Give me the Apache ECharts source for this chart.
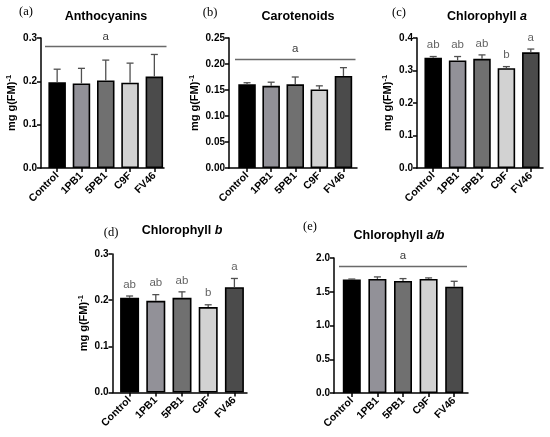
<!DOCTYPE html>
<html><head><meta charset="utf-8">
<script src="https://cdn.jsdelivr.net/npm/echarts@6/dist/echarts.min.js"></script>
<style>html,body{margin:0;padding:0;background:#fff}#c{width:550px;height:437px}</style>
</head><body><div id="c"></div>
<script>
// ---------- data ----------
const categories = ['Control', '1PB1', '5PB1', 'C9F', 'FV46'];
const barColors = ['#000000', '#929198', '#707070', '#d2d2d2', '#4b4b4b'];

const anthocyanins    = [0.198, 0.195, 0.202, 0.197, 0.211];
const anthocyaninsErr = [0.030, 0.035, 0.047, 0.045, 0.051];
const anthocyaninsSig = 0.282;

const carotenoids     = [0.161, 0.158, 0.161, 0.151, 0.177];
const carotenoidsErr  = [0.003, 0.007, 0.014, 0.007, 0.016];
const carotenoidsSig  = 0.210;

const chlA            = [0.339, 0.331, 0.336, 0.307, 0.356];
const chlAErr         = [0.004, 0.012, 0.012, 0.005, 0.010];
const chlALetters     = ['ab', 'ab', 'ab', 'b', 'a'];

const chlB            = [0.205, 0.1985, 0.205, 0.185, 0.228];
const chlBErr         = [0.004, 0.0135, 0.013, 0.005, 0.019];
const chlBLetters     = ['ab', 'ab', 'ab', 'b', 'a'];

const chlRatio        = [1.68, 1.69, 1.66, 1.69, 1.575];
const chlRatioErr     = [0.008, 0.030, 0.035, 0.015, 0.080];
const chlRatioSig     = 1.875;

const yTicksA = [0, 0.1, 0.2, 0.3];
const yTicksB = [0, 0.05, 0.10, 0.15, 0.20, 0.25];
const yTicksC = [0, 0.1, 0.2, 0.3, 0.4];
const yTicksD = [0, 0.1, 0.2, 0.3];
const yTicksE = [0, 0.5, 1.0, 1.5, 2.0];

// ---------- panels ----------
const SANS = '"Liberation Sans", Arial, sans-serif';
const SERIF = '"Liberation Serif", "Times New Roman", serif';

const panels = [
  { values: anthocyanins, errors: anthocyaninsErr, sig: anthocyaninsSig, letters: null, ticks: yTicksA, decimals: 1, yName: true,
    title: 'Anthocyanins', tag: '(a)',
    L: { axisX: 41, bandLeft: 45, bandWidth: 121.5, lineEnd: 164, top: 38, bottom: 168, titleX: 106, titleY: 17, tagX: 26, tagY: 12, barWidth: 17.5, nameGap: 19 } },
  { values: carotenoids, errors: carotenoidsErr, sig: carotenoidsSig, letters: null, ticks: yTicksB, decimals: 2, yName: true,
    title: 'Carotenoids', tag: '(b)',
    L: { axisX: 229, bandLeft: 235, bandWidth: 120.5, lineEnd: 357, top: 38, bottom: 168, titleX: 298, titleY: 17, tagX: 210, tagY: 13, barWidth: 17.5, nameGap: 23 } },
  { values: chlA, errors: chlAErr, sig: null, letters: chlALetters, ticks: yTicksC, decimals: 1, yName: true,
    title: '{n|Chlorophyll }{i|a}', tag: '(c)',
    L: { axisX: 417, bandLeft: 421, bandWidth: 122, lineEnd: 543, top: 38, bottom: 168, titleX: 487, titleY: 17, tagX: 399, tagY: 13, barWidth: 17.5, nameGap: 19 } },
  { values: chlB, errors: chlBErr, sig: null, letters: chlBLetters, ticks: yTicksD, decimals: 1, yName: true,
    title: '{n|Chlorophyll }{i|b}', tag: '(d)',
    L: { axisX: 112.5, bandLeft: 116.5, bandWidth: 131, lineEnd: 247, top: 254, bottom: 392.5, titleX: 182, titleY: 231, tagX: 111, tagY: 233, barWidth: 19, nameGap: 22 } },
  { values: chlRatio, errors: chlRatioErr, sig: chlRatioSig, letters: null, ticks: yTicksE, decimals: 1, yName: false,
    title: '{n|Chlorophyll }{i|a/b}', tag: '(e)',
    L: { axisX: 334, bandLeft: 339, bandWidth: 128, lineEnd: 468, top: 258, bottom: 393, titleX: 399, titleY: 236, tagX: 310, tagY: 227, barWidth: 18, nameGap: 22 } }
];

const grid = [], xAxis = [], yAxis = [], series = [], graphic = [];

function errRender(params, api) {
  const i = api.value(0), v = api.value(1), e = api.value(2);
  const p0 = api.coord([i, v]);
  const p1 = api.coord([i, v + e]);
  const hw = 3.5;
  const st = { stroke: '#505050', lineWidth: 1.3 };
  return { type: 'group', children: [
    { type: 'line', shape: { x1: p0[0], y1: p0[1], x2: p1[0], y2: p1[1] }, style: st },
    { type: 'line', shape: { x1: p1[0] - hw, y1: p1[1], x2: p1[0] + hw, y2: p1[1] }, style: st }
  ] };
}

panels.forEach((p, k) => {
  const L = p.L;
  const h = L.bottom - L.top;
  const max = p.ticks[p.ticks.length - 1];
  const interval = p.ticks[1] - p.ticks[0];
  const gA = grid.length;
  grid.push({ left: L.bandLeft, top: L.top, width: L.bandWidth, height: h, containLabel: false });
  grid.push({ left: L.axisX, top: L.top, width: L.lineEnd - L.axisX, height: h, containLabel: false });
  const gB = gA + 1;

  xAxis.push({
    type: 'category', gridIndex: gA, data: categories, boundaryGap: true,
    axisLine: { show: false },
    axisTick: { show: true, alignWithLabel: true, length: 4, lineStyle: { color: '#000', width: 1.5 } },
    axisLabel: { rotate: 45, interval: 0, margin: 6, fontFamily: SANS, fontWeight: 'bold', fontSize: 10.5, color: '#000' }
  });
  xAxis.push({
    type: 'value', gridIndex: gB, min: 0, max: 1,
    axisLine: { show: true, onZero: false, lineStyle: { color: '#000', width: 1.5 } },
    axisTick: { show: false }, axisLabel: { show: false }, splitLine: { show: false }
  });
  yAxis.push({
    type: 'value', gridIndex: gA, min: 0, max: max, interval: interval,
    offset: L.bandLeft - L.axisX,
    axisLine: { show: true, lineStyle: { color: '#000', width: 1.5 } },
    axisTick: { show: true, length: 4, lineStyle: { color: '#000', width: 1.5 } },
    axisLabel: { margin: 4, fontFamily: SANS, fontWeight: 'bold', fontSize: 10, color: '#000',
      formatter: v => v.toFixed(p.decimals) },
    splitLine: { show: false },
    name: p.yName ? '{m|mg g(FM)}{s|-1}' : '',
    nameLocation: 'middle', nameRotate: 90, nameGap: L.nameGap,
    nameTextStyle: { rich: {
      m: { fontFamily: SANS, fontWeight: 'bold', fontSize: 11, color: '#000', lineHeight: 14 },
      s: { fontFamily: SANS, fontWeight: 'bold', fontSize: 7.5, color: '#000', lineHeight: 14, verticalAlign: 'top', padding: [0, 0, 6, 0] }
    } }
  });
  yAxis.push({ type: 'value', gridIndex: gB, min: 0, max: 1, show: false });

  const barSeries = {
    type: 'bar', xAxisIndex: gA, yAxisIndex: gA, barWidth: L.barWidth,
    data: p.values.map((v, i) => ({ value: v, itemStyle: { color: barColors[i], borderColor: '#000', borderWidth: 1.6 } })),
    silent: true, z: 2
  };
  if (p.sig !== null) {
    barSeries.markLine = {
      symbol: 'none', silent: true, animation: false,
      lineStyle: { color: '#6a6a6a', width: 1.4, type: 'solid' },
      label: { show: true, position: 'insideMiddleTop', distance: 4, formatter: 'a',
        fontFamily: SANS, fontSize: 11.5, color: '#3a3a3a' },
      data: [{ yAxis: p.sig }]
    };
  }
  series.push(barSeries);
  series.push({
    type: 'custom', xAxisIndex: gA, yAxisIndex: gA, renderItem: errRender, silent: true, z: 3,
    data: p.values.map((v, i) => [i, v, p.errors[i]])
  });
  if (p.letters) {
    series.push({
      type: 'scatter', xAxisIndex: gA, yAxisIndex: gA, symbolSize: 1, silent: true,
      itemStyle: { color: 'rgba(0,0,0,0)' },
      data: p.values.map((v, i) => [i, v + p.errors[i]]),
      label: { show: true, position: 'top', distance: 5, fontFamily: SANS, fontSize: 11.5, color: '#3a3a3a',
        formatter: prm => p.letters[prm.dataIndex] }
    });
  }

  graphic.push({
    type: 'text', x: L.titleX, y: L.titleY, silent: true,
    style: { text: p.title, align: 'center', verticalAlign: 'middle',
      fontFamily: SANS, fontWeight: 'bold', fontSize: 12.5, fill: '#000',
      rich: {
        n: { fontFamily: SANS, fontWeight: 'bold', fontSize: 12.5, fill: '#000', color: '#000' },
        i: { fontFamily: SANS, fontWeight: 'bold', fontStyle: 'italic', fontSize: 12.5, fill: '#000', color: '#000' }
      } }
  });
  graphic.push({
    type: 'text', x: L.tagX, y: L.tagY, silent: true,
    style: { text: p.tag, align: 'center', verticalAlign: 'middle', fontFamily: SERIF, fontSize: 12.5, fill: '#000' }
  });
});

const chart = echarts.init(document.getElementById('c'));
chart.setOption({
  backgroundColor: '#fff',
  animation: false,
  grid, xAxis, yAxis, series, graphic
});
</script>
</body></html>
